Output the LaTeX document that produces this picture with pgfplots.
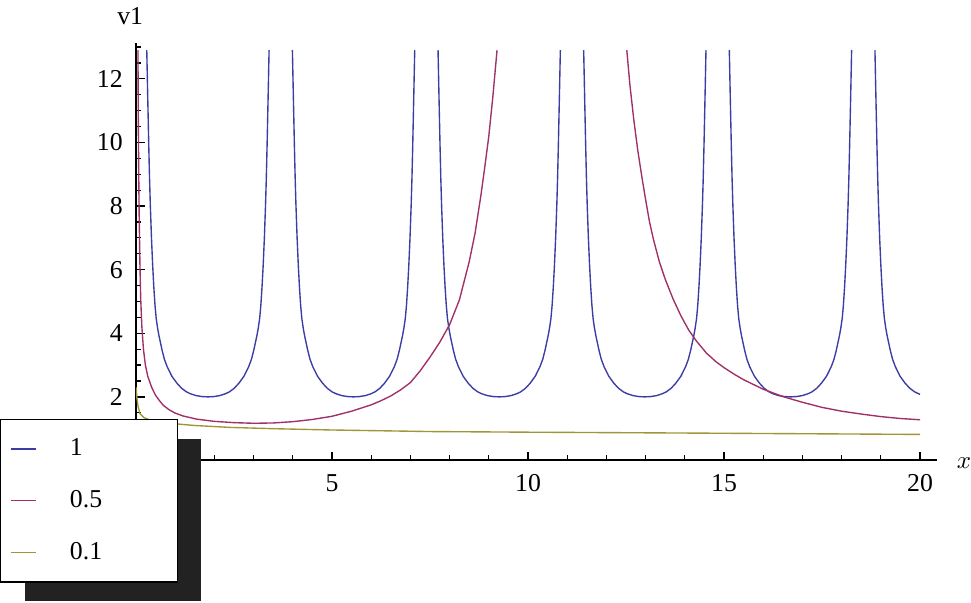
\documentclass[border=0pt]{standalone}
\usepackage{fontspec}
\setmainfont{Liberation Serif}
\usepackage{pgfplots}
\pgfplotsset{compat=1.18}
\definecolor{mblue}{RGB}{60,60,165}
\definecolor{mred}{RGB}{160,48,104}
\definecolor{molive}{RGB}{160,150,56}
\definecolor{shadowgray}{RGB}{34,34,34}
\newcommand{\tfont}{\fontsize{10.3}{12}\selectfont}
\newcommand{\lent}[1]{\makebox[39pt][l]{\rule{0pt}{7pt}#1}}
\begin{document}
\begin{tikzpicture}
\begin{axis}[
  x=15.68pt, y=12.72pt,
  xmin=0, xmax=20.43, ymin=0, ymax=13.14,
  axis lines=middle,
  axis line style={-, line width=0.8pt, black},
  clip mode=individual,
  unbounded coords=jump,
  xtick={5,10,15,20}, ytick={2,4,6,8,10,12},
  minor xtick={1,2,3,4,6,7,8,9,11,12,13,14,16,17,18,19},
  minor ytick={0.5,1,1.5,2.5,3,3.5,4.5,5,5.5,6.5,7,7.5,8.5,9,9.5,10.5,11,11.5,12.5,13},
  tick align=inside,
  major tick length=3.5pt, minor tick length=2pt,
  every tick/.style={line width=0.5pt, black},
  /pgf/number format/assume math mode=true,
  ticklabel style={font=\tfont},
  yticklabel style={xshift=-1.8pt},
  xticklabel style={yshift=-2pt},
  xlabel={$x$}, ylabel={v1},
  xlabel style={at={(axis description cs:1.0338,-0.0061)}, anchor=center, font=\tfont},
  ylabel style={at={(axis description cs:-0.0073,1.0624)}, anchor=center, font=\tfont, rotate=0},
  legend style={at={(-0.1698,0.0993)}, anchor=north west, draw=black, line width=0.5pt, fill=white,
    inner xsep=4pt, inner ysep=7.5pt, row sep=12.2pt, column sep=13.2pt,
    nodes={inner sep=0pt}, font=\tfont},
  legend cell align=left,
  legend image code/.code={\draw[#1, line width=0.55pt] (0pt,0pt) -- (10pt,0pt);},
]
\addplot[mblue, line width=0.55pt] coordinates {
(0.275,12.90)(0.300,11.40)(0.325,9.95)(0.345,8.90)(0.365,8.05)(0.395,7.00)(0.425,6.15)(0.455,5.45)(0.485,4.88)(0.515,4.47)(0.550,4.17)(0.585,3.93)(0.665,3.47)(0.725,3.18)(0.795,2.95)(0.915,2.65)(1.045,2.43)(1.165,2.27)(1.285,2.16)(1.385,2.10)(1.535,2.04)(1.685,2.01)(1.835,2.00)
(1.985,2.01)(2.135,2.04)(2.285,2.10)(2.385,2.16)(2.505,2.27)(2.625,2.43)(2.755,2.65)(2.875,2.95)(2.945,3.18)(3.005,3.47)(3.085,3.93)(3.120,4.17)(3.155,4.47)(3.185,4.88)(3.215,5.45)(3.245,6.15)(3.275,7.00)(3.305,8.05)(3.325,8.90)(3.345,9.95)(3.370,11.40)(3.395,12.90)
(3.5,nan)
(3.990,12.90)(4.015,11.40)(4.040,9.95)(4.060,8.90)(4.080,8.05)(4.110,7.00)(4.140,6.15)(4.170,5.45)(4.200,4.88)(4.230,4.47)(4.265,4.17)(4.300,3.93)(4.380,3.47)(4.440,3.18)(4.510,2.95)(4.630,2.65)(4.760,2.43)(4.880,2.27)(5.000,2.16)(5.100,2.10)(5.250,2.04)(5.400,2.01)(5.550,2.00)
(5.700,2.01)(5.850,2.04)(6.000,2.10)(6.100,2.16)(6.220,2.27)(6.340,2.43)(6.470,2.65)(6.590,2.95)(6.660,3.18)(6.720,3.47)(6.800,3.93)(6.835,4.17)(6.870,4.47)(6.900,4.88)(6.930,5.45)(6.960,6.15)(6.990,7.00)(7.020,8.05)(7.040,8.90)(7.060,9.95)(7.085,11.40)(7.110,12.90)
(7.3,nan)
(7.705,12.90)(7.730,11.40)(7.755,9.95)(7.775,8.90)(7.795,8.05)(7.825,7.00)(7.855,6.15)(7.885,5.45)(7.915,4.88)(7.945,4.47)(7.980,4.17)(8.015,3.93)(8.095,3.47)(8.155,3.18)(8.225,2.95)(8.345,2.65)(8.475,2.43)(8.595,2.27)(8.715,2.16)(8.815,2.10)(8.965,2.04)(9.115,2.01)(9.265,2.00)
(9.415,2.01)(9.565,2.04)(9.715,2.10)(9.815,2.16)(9.935,2.27)(10.055,2.43)(10.185,2.65)(10.305,2.95)(10.375,3.18)(10.435,3.47)(10.515,3.93)(10.550,4.17)(10.585,4.47)(10.615,4.88)(10.645,5.45)(10.675,6.15)(10.705,7.00)(10.735,8.05)(10.755,8.90)(10.775,9.95)(10.800,11.40)(10.825,12.90)
(11.0,nan)
(11.420,12.90)(11.445,11.40)(11.470,9.95)(11.490,8.90)(11.510,8.05)(11.540,7.00)(11.570,6.15)(11.600,5.45)(11.630,4.88)(11.660,4.47)(11.695,4.17)(11.730,3.93)(11.810,3.47)(11.870,3.18)(11.940,2.95)(12.060,2.65)(12.190,2.43)(12.310,2.27)(12.430,2.16)(12.530,2.10)(12.680,2.04)(12.830,2.01)(12.980,2.00)
(13.130,2.01)(13.280,2.04)(13.430,2.10)(13.530,2.16)(13.650,2.27)(13.770,2.43)(13.900,2.65)(14.020,2.95)(14.090,3.18)(14.150,3.47)(14.230,3.93)(14.265,4.17)(14.300,4.47)(14.330,4.88)(14.360,5.45)(14.390,6.15)(14.420,7.00)(14.450,8.05)(14.470,8.90)(14.490,9.95)(14.515,11.40)(14.540,12.90)
(14.7,nan)
(15.135,12.90)(15.160,11.40)(15.185,9.95)(15.205,8.90)(15.225,8.05)(15.255,7.00)(15.285,6.15)(15.315,5.45)(15.345,4.88)(15.375,4.47)(15.410,4.17)(15.445,3.93)(15.525,3.47)(15.585,3.18)(15.655,2.95)(15.775,2.65)(15.905,2.43)(16.025,2.27)(16.145,2.16)(16.245,2.10)(16.395,2.04)(16.545,2.01)(16.695,2.00)
(16.845,2.01)(16.995,2.04)(17.145,2.10)(17.245,2.16)(17.365,2.27)(17.485,2.43)(17.615,2.65)(17.735,2.95)(17.805,3.18)(17.865,3.47)(17.945,3.93)(17.980,4.17)(18.015,4.47)(18.045,4.88)(18.075,5.45)(18.105,6.15)(18.135,7.00)(18.165,8.05)(18.185,8.90)(18.205,9.95)(18.230,11.40)(18.255,12.90)
(18.5,nan)
(18.850,12.90)(18.875,11.40)(18.900,9.95)(18.920,8.90)(18.940,8.05)(18.970,7.00)(19.000,6.15)(19.030,5.45)(19.060,4.88)(19.090,4.47)(19.125,4.17)(19.160,3.93)(19.240,3.47)(19.300,3.18)(19.370,2.95)(19.490,2.65)(19.620,2.43)(19.740,2.27)(19.860,2.16)(19.960,2.10)(20.000,2.08)
};
\addlegendentry{\lent{1}}
\addplot[mred, line width=0.55pt] coordinates {
(0.05,12.90)(0.06,10.6)(0.07,9.0)(0.08,7.8)(0.10,6.2)(0.12,5.1)(0.15,4.2)(0.19,3.5)(0.24,3.0)(0.30,2.65)(0.40,2.30)(0.50,2.05)(0.60,1.88)(0.70,1.73)(0.85,1.59)(1.00,1.49)(1.20,1.40)(1.55,1.30)(2.00,1.23)(2.50,1.19)(3.00,1.17)(3.50,1.18)(4.00,1.22)(4.50,1.29)(5.00,1.39)(5.50,1.55)(6.00,1.75)(6.25,1.88)(6.50,2.03)(6.75,2.22)(7.00,2.45)(7.25,2.82)(7.50,3.25)(7.75,3.72)(8.00,4.27)(8.25,5.05)(8.50,6.25)(8.65,7.15)(8.80,8.35)(8.90,9.25)(9.00,10.20)(9.10,11.40)(9.21,12.90)
(10.9,nan)
(12.52,12.90)(12.60,11.80)(12.70,10.70)(12.80,9.75)(12.90,8.95)(13.00,8.20)(13.10,7.50)(13.20,6.95)(13.35,6.25)(13.50,5.70)(13.70,5.08)(13.90,4.55)(14.10,4.10)(14.30,3.75)(14.55,3.38)(14.80,3.10)(15.00,2.92)(15.25,2.72)(15.50,2.54)(16.00,2.24)(16.50,2.01)(17.00,1.83)(17.50,1.67)(18.00,1.55)(18.50,1.46)(19.00,1.38)(19.50,1.32)(20.00,1.28)
};
\addlegendentry{\lent{0.5}}
\addplot[molive, line width=0.55pt] coordinates {
(0.005,2.30)(0.02,2.00)(0.05,1.72)(0.10,1.48)(0.20,1.35)(0.36,1.27)(0.60,1.21)(1.04,1.15)(1.50,1.10)(2.40,1.04)(3.50,1.00)(4.95,0.96)(7.50,0.91)(10.00,0.89)(13.00,0.87)(16.50,0.845)(20.00,0.82)
};
\addlegendentry{\lent{0.1}}
\fill[shadowgray] (axis cs:-2.832,-4.418) rectangle (axis cs:1.658,0.676);
\coordinate (bl) at (axis cs:-3.469,-4.45);
\coordinate (tr) at (axis cs:21.30,14.48);
\end{axis}
\pgfresetboundingbox
\useasboundingbox (bl) rectangle (tr);
\end{tikzpicture}
\end{document}
